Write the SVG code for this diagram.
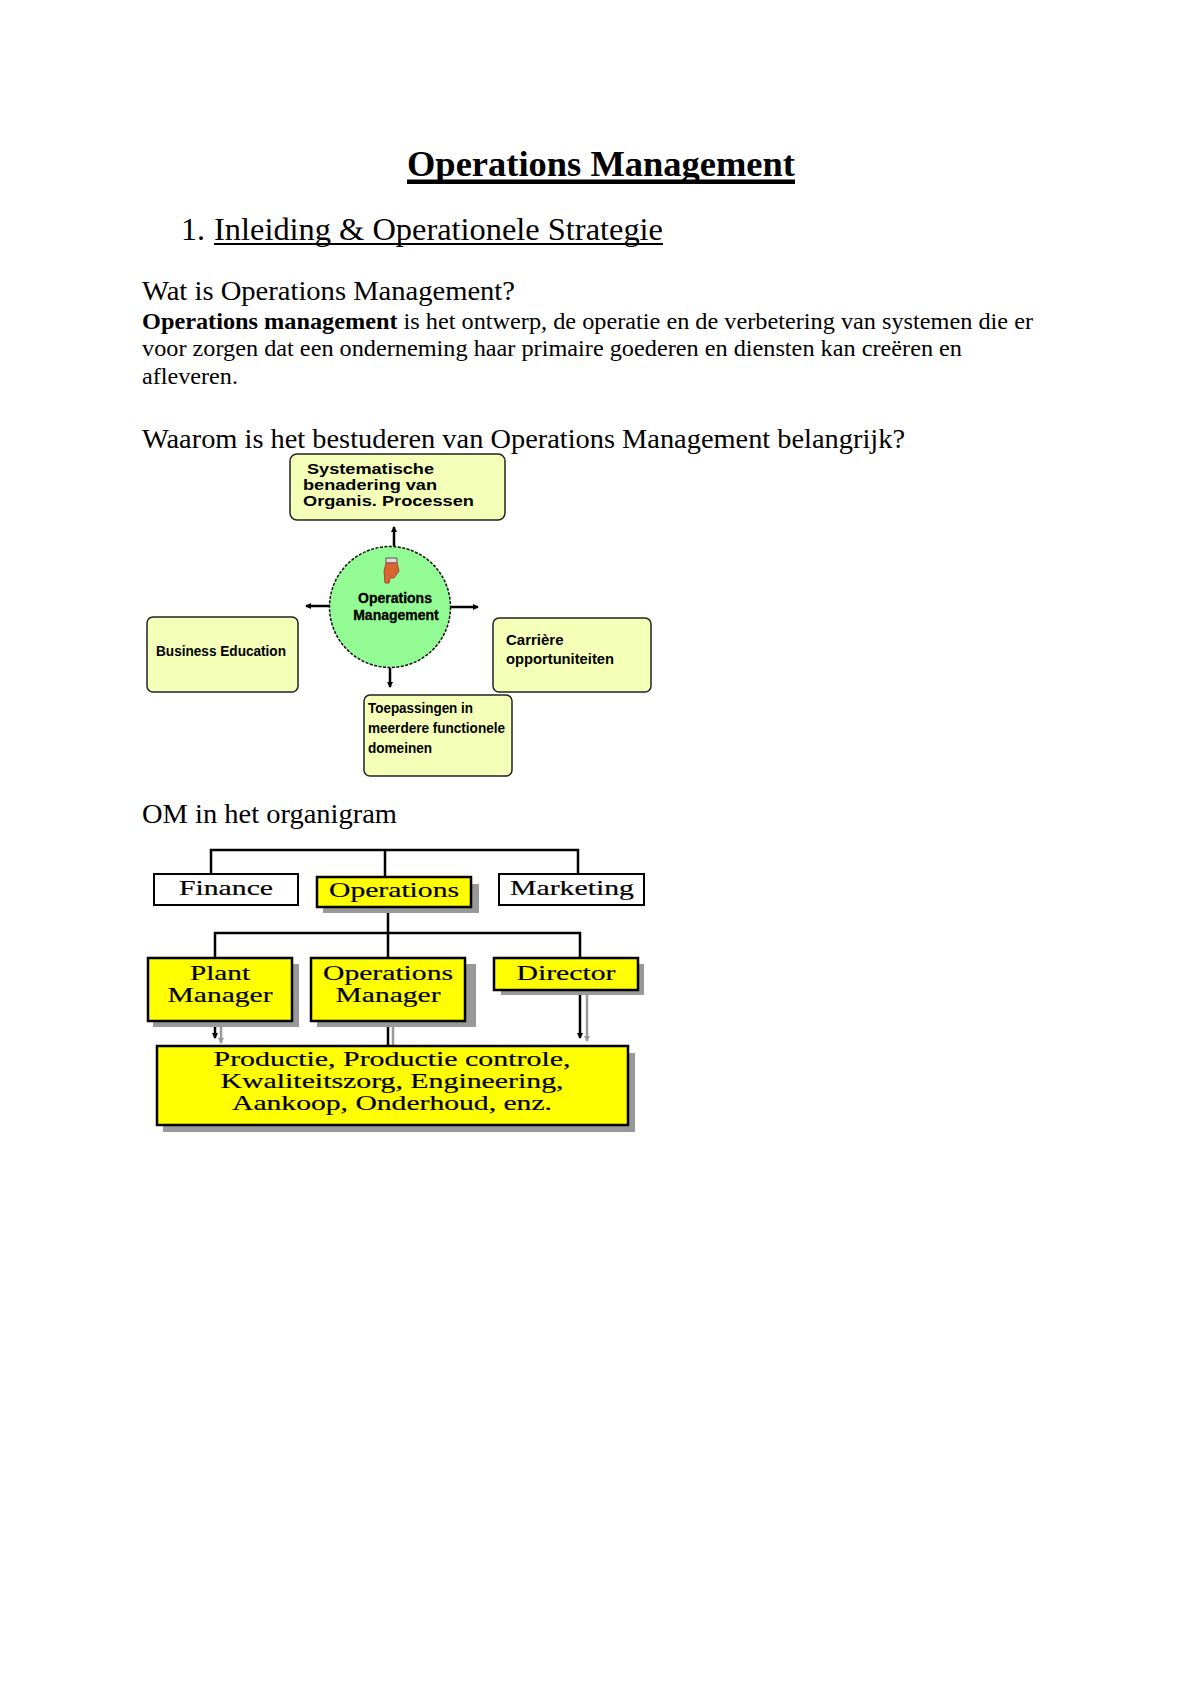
<svg xmlns="http://www.w3.org/2000/svg" width="1200" height="1698" viewBox="0 0 1200 1698">
<defs>
<marker id="ah" markerWidth="7" markerHeight="7" refX="5" refY="3" orient="auto" markerUnits="userSpaceOnUse"><path d="M0,0L6,3L0,6Z" fill="#000"/></marker>
<marker id="ahg" markerWidth="7" markerHeight="7" refX="5" refY="3" orient="auto" markerUnits="userSpaceOnUse"><path d="M0,0L6,3L0,6Z" fill="#999"/></marker>
</defs>
<style>
.s{font-family:"Liberation Serif","Times New Roman",serif;fill:#000}
.a{font-family:"Liberation Sans",Arial,sans-serif;fill:#000;font-weight:bold}
.o{font-family:"Liberation Serif","Times New Roman",serif;fill:#000;font-size:22px;text-anchor:middle;stroke:#000;stroke-width:.2}
.r{fill:#f4ffb8;stroke:#222;stroke-width:1.5}
.y{fill:#ff0;stroke:#000;stroke-width:2.5}
.w{fill:#fff;stroke:#000;stroke-width:2}
.sh{fill:#999}
.c{fill:none;stroke:#000;stroke-width:2.5}
.cg{fill:none;stroke:#999;stroke-width:2.5}
</style>
<rect width="1200" height="1698" fill="#fff"/>
<g id="page-text">
<text class="s" x="407" y="176" font-size="36" font-weight="bold" textLength="388" lengthAdjust="spacingAndGlyphs">Operations Management</text>
<rect x="407" y="179.500" width="388" height="4.500"/>
<text class="s" x="181" y="240" font-size="32">1.</text>
<text class="s" x="214" y="240" font-size="32" textLength="449" lengthAdjust="spacingAndGlyphs">Inleiding &amp; Operationele Strategie</text>
<rect x="214" y="243" width="449" height="2"/>
<text class="s" x="142" y="300" font-size="27" textLength="373" lengthAdjust="spacingAndGlyphs">Wat is Operations Management?</text>
<text class="s" x="142" y="329" font-size="23" textLength="891" lengthAdjust="spacingAndGlyphs"><tspan font-weight="bold">Operations management</tspan> is het ontwerp, de operatie en de verbetering van systemen die er</text>
<text class="s" x="142" y="356" font-size="23" textLength="820" lengthAdjust="spacingAndGlyphs">voor zorgen dat een onderneming haar primaire goederen en diensten kan creëren en</text>
<text class="s" x="142" y="384" font-size="23" textLength="96" lengthAdjust="spacingAndGlyphs">afleveren.</text>
<text class="s" x="142" y="448" font-size="27" textLength="763" lengthAdjust="spacingAndGlyphs">Waarom is het bestuderen van Operations Management belangrijk?</text>
<text class="s" x="142" y="823" font-size="27" textLength="255" lengthAdjust="spacingAndGlyphs">OM in het organigram</text>
</g>
<g id="connectors">
<path class="c" d="M394 546V527" marker-end="url(#ah)"/>
<path class="c" d="M330 606H306" stroke-width="3" marker-end="url(#ah)"/>
<path class="c" d="M451 607H478" stroke-width="1.500" marker-end="url(#ah)"/>
<path class="c" d="M390 668V687" stroke-width="1.500" marker-end="url(#ah)"/>
<path class="c" d="M211 875V850H578V874M385 850V876" stroke-width="2"/>
<path class="c" d="M388 908V933H215V957M388 933V957M388 933H580V957"/>
<path class="cg" d="M221 1027V1043" marker-end="url(#ahg)"/>
<path class="c" d="M215 1022V1038" marker-end="url(#ah)"/>
<path class="cg" d="M393 1027V1045"/>
<path class="c" d="M388 1022V1046"/>
<path class="cg" d="M587 995V1041" marker-end="url(#ahg)"/>
<path class="c" d="M580 990V1038" marker-end="url(#ah)"/>
</g>
<g id="n-systematische">
<rect class="r" x="290" y="454" width="215" height="66" rx="7"/>
<text class="a" font-size="15" textLength="127" lengthAdjust="spacingAndGlyphs" x="307" y="474">Systematische</text>
<text class="a" font-size="15" textLength="134" lengthAdjust="spacingAndGlyphs" x="303" y="490">benadering van</text>
<text class="a" font-size="15" textLength="171" lengthAdjust="spacingAndGlyphs" x="303" y="506">Organis. Processen</text>
</g>
<g id="n-om">
<circle cx="390" cy="607" r="60.500" fill="#93fb93" stroke="#111" stroke-width="1.500" stroke-dasharray="3 1.500"/>
<path d="M386 558h11v5h-11z" fill="#ddd" stroke="#555"/>
<path d="M386 563h11l2 8-5 7-4 0-1 5h-4l-1-12z" fill="#d9662f" stroke="#a44"/>
<text class="a" font-size="14" text-anchor="middle" x="395" y="603" font-weight="normal" stroke="#000" stroke-width=".3">Operations</text>
<text class="a" font-size="14" text-anchor="middle" x="396" y="620" font-weight="normal" stroke="#000" stroke-width=".3">Management</text>
</g>
<g id="n-business">
<rect class="r" x="147" y="617" width="151" height="75" rx="6"/>
<text class="a" font-size="15" x="156" y="656" textLength="130" lengthAdjust="spacingAndGlyphs">Business Education</text>
</g>
<g id="n-carriere">
<rect class="r" x="493" y="618" width="158" height="74" rx="6"/>
<text class="a" font-size="15" x="506" y="645">Carrière</text>
<text class="a" font-size="15" x="506" y="664" textLength="108" lengthAdjust="spacingAndGlyphs">opportuniteiten</text>
</g>
<g id="n-toepassingen">
<rect class="r" x="364" y="695" width="148" height="81" rx="6"/>
<text class="a" font-size="15" x="368" y="713" textLength="105" lengthAdjust="spacingAndGlyphs">Toepassingen in</text>
<text class="a" font-size="15" x="368" y="733" textLength="137" lengthAdjust="spacingAndGlyphs">meerdere functionele</text>
<text class="a" font-size="15" x="368" y="753" textLength="64" lengthAdjust="spacingAndGlyphs">domeinen</text>
</g>
<g id="n-finance">
<rect class="w" x="154" y="874" width="144" height="31"/>
<text class="o" x="226" y="895" textLength="94" lengthAdjust="spacingAndGlyphs">Finance</text>
</g>
<g id="n-operations">
<rect class="sh" x="323" y="884" width="156" height="29"/>
<rect class="y" x="317" y="877" width="154" height="30"/>
<text class="o" x="394" y="897" textLength="130" lengthAdjust="spacingAndGlyphs">Operations</text>
</g>
<g id="n-marketing">
<rect class="w" x="499" y="874" width="145" height="31"/>
<text class="o" x="572" y="895" textLength="124" lengthAdjust="spacingAndGlyphs">Marketing</text>
</g>
<g id="n-plant">
<rect class="sh" x="153" y="964" width="146" height="63"/>
<rect class="y" x="148" y="958" width="144" height="63"/>
<text class="o" x="220" y="980" textLength="60" lengthAdjust="spacingAndGlyphs">Plant</text>
<text class="o" x="220" y="1002" textLength="105" lengthAdjust="spacingAndGlyphs">Manager</text>
</g>
<g id="n-opsmgr">
<rect class="sh" x="317" y="964" width="159" height="63"/>
<rect class="y" x="311" y="958" width="154" height="63"/>
<text class="o" x="388" y="980" textLength="130" lengthAdjust="spacingAndGlyphs">Operations</text>
<text class="o" x="388" y="1002" textLength="105" lengthAdjust="spacingAndGlyphs">Manager</text>
</g>
<g id="n-director">
<rect class="sh" x="501" y="964" width="143" height="31"/>
<rect class="y" x="494" y="958" width="144" height="32"/>
<text class="o" x="566" y="980" textLength="99" lengthAdjust="spacingAndGlyphs">Director</text>
</g>
<g id="n-productie">
<rect class="sh" x="163" y="1053" width="472" height="79"/>
<rect class="y" x="157" y="1046" width="471" height="79"/>
<text class="o" x="392" y="1066" textLength="357" lengthAdjust="spacingAndGlyphs">Productie, Productie controle,</text>
<text class="o" x="392" y="1088" textLength="343" lengthAdjust="spacingAndGlyphs">Kwaliteitszorg, Engineering,</text>
<text class="o" x="392" y="1110" textLength="320" lengthAdjust="spacingAndGlyphs">Aankoop, Onderhoud, enz.</text>
</g>
</svg>
